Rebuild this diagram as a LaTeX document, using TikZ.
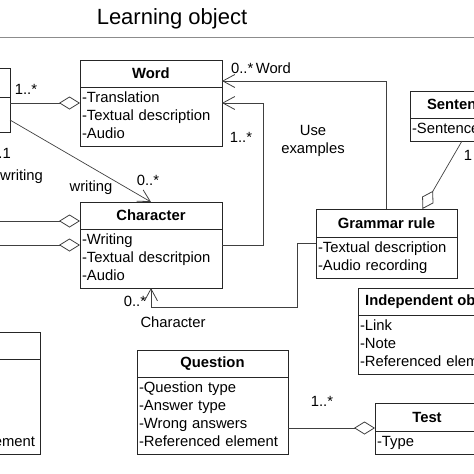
\documentclass[tikz,border=0pt]{standalone}
\usepackage{fontspec}
\setmainfont{Liberation Sans}
\usetikzlibrary{arrows.meta}
\usetikzlibrary{positioning}
\usetikzlibrary{calc}

\tikzset{
  uml/.style={draw=black!85, line width=0.8pt, outer sep=0pt},
  classhead/.style={uml, font=\fontsize{14.8}{18}\selectfont\bfseries, minimum height=27pt, inner sep=0pt, anchor=north west},
  classbody/.style={uml, font=\fontsize{14.8}{18}\selectfont, align=left, inner xsep=2pt, inner ysep=2.5pt,
    execute at begin node=\strut, execute at end node=\strut},
  tag/.style={font=\fontsize{14.8}{18}\selectfont, inner sep=0pt},
  link/.style={draw=black!75, line width=0.7pt},
  agg/.style={link, -{Diamond[open, length=21pt, width=13pt, line width=0.8pt]}},
  nav/.style={link, -{Straight Barb[length=12pt, width=13pt, line width=0.8pt]}},
}

\begin{document}
\begin{tikzpicture}[x=1pt, y=-1pt]
  \useasboundingbox (0,0) rectangle (474,474);
  \clip (0,0) rectangle (474,474);

  % package title
  \node[font=\fontsize{22}{26}\selectfont, inner sep=0pt] (title) at (172,19) {Learning object};
  \draw[black!45, line width=0.8pt] (-5,37) -- (480,37);

  % classes
  \node[classhead, minimum width=100pt, minimum height=29pt, anchor=north east] (lesson) at (10,68) {};
  \node[classbody, text width=96pt, minimum height=35pt, below=0pt of lesson] (lessonattr) {};

  \node[classhead, minimum width=142pt] (word) at (80,60) {Word};
  \node[classbody, text width=138pt, below=0pt of word] (wordattr) {-Translation\\-Textual description\\-Audio};

  \node[classhead, minimum width=142pt] (character) at (80,202) {Character};
  \node[classbody, text width=138pt, below=0pt of character] (charattr) {-Writing\\-Textual descritpion\\-Audio};

  \node[classhead, minimum width=100pt] (sentence) at (410,91) {Sentence};
  \node[classbody, text width=96pt, below=0pt of sentence] (sentattr) {-Sentence};

  \node[classhead, minimum width=141pt, minimum height=28pt] (grammar) at (316,209) {Grammar rule};
  \node[classbody, text width=137pt, below=0pt of grammar] (grammarattr) {-Textual description\\-Audio recording};

  \node[classhead, minimum width=150pt] (independent) at (358,288) {Independent object};
  \node[classbody, text width=146pt, below=0pt of independent] (indepattr) {-Link\\-Note\\-Referenced element};

  \node[classhead, minimum width=146pt, anchor=north east] (material) at (40,332) {};
  \node[classbody, text width=142pt, below=0pt of material] (materialattr) {~\\~\\~\\~\\-Referenced element};

  \node[classhead, minimum width=151pt] (question) at (137,350) {Question};
  \node[classbody, text width=147pt, below=0pt of question] (questattr) {-Question type\\-Answer type\\-Wrong answers\\-Referenced element};

  \node[classhead, minimum width=104pt, minimum height=28pt] (test) at (375,403) {Test};
  \node[classbody, text width=100pt, below=0pt of test] (testattr) {-Type};

  % ends of lines from classes outside the picture
  \coordinate (outa) at (-20,221);
  \coordinate (outb) at (-20,245);

  % connectors
  \draw[agg] ([yshift=-6pt]lessonattr.north east) -- ([yshift=-6pt]lessonattr.north east -| wordattr.west);
  \draw[nav] ([yshift=-23pt]lessonattr.north east) -- (character.north);
  \draw[agg] (outa) -- (outa -| character.west);
  \draw[agg] (outb) -- (outb -| charattr.west);
  \draw[nav] ([yshift=-16pt]charattr.north east) -- ++(41,0) |- ([yshift=-16pt]wordattr.north east);
  \draw[nav] (grammar.north) |- ([yshift=-21pt]word.north east);
  \draw[agg] ([xshift=2pt]sentattr.south) -- ([xshift=36pt]grammar.north);
  \draw[nav] ([yshift=-6pt]grammarattr.north west) -- ++(-19,0) -- ++(0,64) -| (charattr.south);
  \draw[agg] ([yshift=-51pt]questattr.north east) -- ([yshift=-51pt]questattr.north east -| test.west);

  % multiplicities and roles
  \node[tag] (multa) at (26,89) {1..*};
  \node[tag, anchor=east] (multb) at (11,153) {1..1};
  \node[tag, anchor=west] (rolea) at (0,177) {writing};
  \node[tag] (roleb) at (91,188) {writing};
  \node[tag] (multc) at (148,180) {0..*};
  \node[tag] (multd) at (241,137) {1..*};
  \node[tag] (multe) at (261,68) {0..*\,Word};
  \node[tag, align=center] (useex) at (313,141) {Use\\examples};
  \node[tag] (multf) at (468,155) {1};
  \node[tag] (multg) at (135,301) {0..*};
  \node[tag] (rolec) at (173,322) {Character};
  \node[tag] (multh) at (322,401) {1..*};
\end{tikzpicture}
\end{document}
